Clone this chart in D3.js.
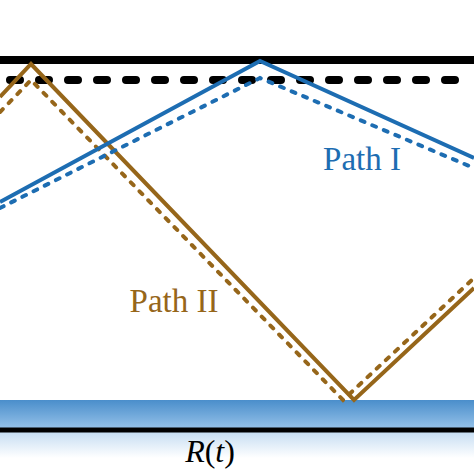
<html>
<head>
<meta charset="utf-8">
<title>Path I / Path II reflection</title>
<style>
  body { margin: 0; background: #ffffff; }
  svg { display: block; }
</style>
</head>
<body>
<div id="chart"></div>
<script src="https://cdnjs.cloudflare.com/ajax/libs/d3/7.8.5/d3.min.js"></script>
<script>
(function () {

  // x in px across the figure, h = height above the reflector surface
  const pathIx = [0, 260, 474]
  const pathIh = [198, 339, 242]
  const pathIdashX = [0, 260, 474]
  const pathIdashH = [192, 322, 232]

  const pathIIx = [0, 31, 354, 474]
  const pathIIh = [303, 336, 0, 112]
  const pathIIdashX = [0, 31, 343, 474]
  const pathIIdashH = [288, 320, 0, 122]

  const boundaryLevels = [340, 320]   // solid top, dashed top
  const labels = ["Path I", "Path II"]
  const labelX = [362, 174]
  const labelH = [230, 88]

  const width = 474, height = 474
  const blue = "#1d6db2", brown = "#96661a"

  const x = d3.scaleLinear().domain([0, 474]).range([0, width])
  const y = d3.scaleLinear().domain([0, 340]).range([400, 60])

  const svg = d3.select("#chart").append("svg")
    .attr("width", width)
    .attr("height", height)

  const defs = svg.append("defs")
  const g1 = defs.append("linearGradient").attr("id", "band").attr("x1", 0).attr("x2", 0).attr("y1", 0).attr("y2", 1)
  g1.append("stop").attr("offset", "0%").attr("stop-color", "#4a8ecb")
  g1.append("stop").attr("offset", "100%").attr("stop-color", "#93c0e8")
  const g2 = defs.append("linearGradient").attr("id", "fade").attr("x1", 0).attr("x2", 0).attr("y1", 0).attr("y2", 1)
  g2.append("stop").attr("offset", "0%").attr("stop-color", "#c6ddf2")
  g2.append("stop").attr("offset", "100%").attr("stop-color", "#ffffff")

  // reflector
  svg.append("rect").attr("x", 0).attr("y", y(0)).attr("width", width).attr("height", 28).attr("fill", "url(#band)")
  svg.append("rect").attr("x", 0).attr("y", y(0) + 32).attr("width", width).attr("height", 26).attr("fill", "url(#fade)")
  svg.append("line").attr("x1", 0).attr("x2", width).attr("y1", y(0) + 30).attr("y2", y(0) + 30)
    .attr("stroke", "#000").attr("stroke-width", 5)

  // top boundaries
  svg.append("line").attr("x1", 0).attr("x2", width)
    .attr("y1", y(boundaryLevels[0])).attr("y2", y(boundaryLevels[0]))
    .attr("stroke", "#000").attr("stroke-width", 8)
  svg.append("line").attr("x1", 10).attr("x2", width)
    .attr("y1", y(boundaryLevels[1])).attr("y2", y(boundaryLevels[1]))
    .attr("stroke", "#000").attr("stroke-width", 8)
    .attr("stroke-linecap", "round")
    .attr("stroke-dasharray", "10,19")

  const line = d3.line().x(d => x(d[0])).y(d => y(d[1]))
  const zip = (a, b) => a.map((v, i) => [v, b[i]])

  const paths = [
    { pts: zip(pathIIdashX, pathIIdashH), color: brown, dash: true },
    { pts: zip(pathIIx, pathIIh), color: brown, dash: false },
    { pts: zip(pathIdashX, pathIdashH), color: blue, dash: true },
    { pts: zip(pathIx, pathIh), color: blue, dash: false }
  ]

  svg.selectAll("path.ray")
    .data(paths)
    .join("path")
    .attr("class", "ray")
    .attr("d", d => line(d.pts))
    .attr("fill", "none")
    .attr("stroke", d => d.color)
    .attr("stroke-width", 4)
    .attr("stroke-linejoin", "miter")
    .attr("stroke-linecap", d => d.dash ? "round" : "butt")
    .attr("stroke-dasharray", d => d.dash ? "4,8.5" : null)

  // labels
  svg.selectAll("text.lab")
    .data(labels)
    .join("text")
    .attr("class", "lab")
    .attr("x", (d, i) => x(labelX[i]))
    .attr("y", (d, i) => y(labelH[i]))
    .attr("text-anchor", "middle")
    .attr("font-family", "'Liberation Serif', serif")
    .attr("font-size", 33)
    .attr("fill", (d, i) => i === 0 ? blue : brown)
    .text(d => d)

  const rt = svg.append("text")
    .attr("x", 210).attr("y", 462)
    .attr("text-anchor", "middle")
    .attr("font-family", "'Liberation Serif', serif")
    .attr("font-size", 32)
    .attr("fill", "#000")
  rt.append("tspan").attr("font-style", "italic").text("R")
  rt.append("tspan").text("(")
  rt.append("tspan").attr("font-style", "italic").text("t")
  rt.append("tspan").text(")")

})();
</script>
</body>
</html>
